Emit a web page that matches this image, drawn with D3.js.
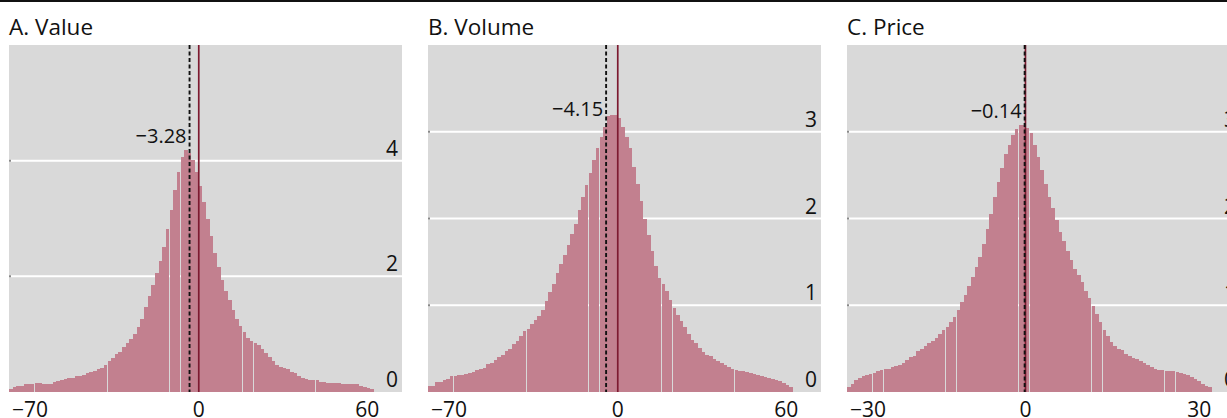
<!DOCTYPE html>
<html>
<head>
<meta charset="utf-8">
<script src="https://cdn.jsdelivr.net/npm/d3@7"></script>
<style>
  body { margin: 0; background: #fff; }
  svg { display: block; font-family: "Open Sans", "Noto Sans", sans-serif; }
</style>
</head>
<body>
<div id="chart"></div>
<script>
// panel set-up
const panelTitles = ["A. Value", "B. Volume", "C. Price"];
const medians = [-3.28, -4.15, -0.14];
const binStart = [-67.6, -67.6, -30.8];
const binWidth = [1.3, 1.3, 0.63];
const xDomains = [[-67.6, 72.4], [-67.6, 72.4], [-30.8, 37.03]];
const yDomains = [[0, 6], [0, 4], [0, 4]];
const yTicks = [[0, 2, 4], [0, 1, 2, 3], [0, 1, 2, 3]];
const xTicks = [[-70, 0, 60], [-70, 0, 60], [-30, 0, 30]];

// histogram heights, one value per bin
const valueBins = [
  0.06, 0.08, 0.10, 0.11, 0.13, 0.14, 0.14, 0.16, 0.16, 0.14,
  0.14, 0.14, 0.17, 0.19, 0.20, 0.22, 0.24, 0.25, 0.27, 0.28,
  0.30, 0.32, 0.34, 0.36, 0.39, 0.42, 0.47, 0.53, 0.58, 0.65,
  0.70, 0.77, 0.84, 0.91, 1.00, 1.12, 1.27, 1.47, 1.66, 1.85,
  2.06, 2.27, 2.51, 2.81, 3.14, 3.50, 3.81, 4.06, 4.18, 4.14,
  4.02, 3.81, 3.57, 3.29, 3.00, 2.70, 2.41, 2.16, 1.94, 1.74,
  1.59, 1.41, 1.27, 1.14, 1.03, 0.94, 0.89, 0.84, 0.81, 0.74,
  0.68, 0.60, 0.53, 0.47, 0.44, 0.41, 0.39, 0.35, 0.32, 0.28,
  0.25, 0.23, 0.21, 0.21, 0.20, 0.18, 0.18, 0.16, 0.16, 0.16,
  0.16, 0.14, 0.14, 0.14, 0.13, 0.13, 0.11, 0.09, 0.07, 0.06
];
const volumeBins = [
  0.07, 0.07, 0.11, 0.12, 0.14, 0.15, 0.18, 0.19, 0.20, 0.20,
  0.21, 0.22, 0.23, 0.25, 0.26, 0.28, 0.32, 0.34, 0.37, 0.40,
  0.43, 0.47, 0.50, 0.55, 0.59, 0.65, 0.70, 0.73, 0.78, 0.83,
  0.88, 0.95, 1.05, 1.15, 1.25, 1.37, 1.47, 1.58, 1.69, 1.82,
  1.94, 2.10, 2.25, 2.39, 2.52, 2.67, 2.81, 2.94, 3.06, 3.18,
  3.19, 3.19, 3.16, 3.06, 2.94, 2.81, 2.59, 2.40, 2.20, 2.00,
  1.81, 1.62, 1.45, 1.31, 1.25, 1.16, 1.06, 0.97, 0.89, 0.82,
  0.75, 0.67, 0.60, 0.56, 0.51, 0.46, 0.43, 0.41, 0.38, 0.36,
  0.34, 0.31, 0.29, 0.27, 0.25, 0.24, 0.24, 0.23, 0.22, 0.21,
  0.20, 0.19, 0.17, 0.16, 0.15, 0.14, 0.13, 0.10, 0.08, 0.06
];
const priceBins = [
  0.06, 0.09, 0.14, 0.16, 0.19, 0.20, 0.21, 0.22, 0.24, 0.25,
  0.26, 0.27, 0.29, 0.30, 0.31, 0.34, 0.37, 0.40, 0.42, 0.47,
  0.50, 0.53, 0.56, 0.59, 0.62, 0.67, 0.71, 0.75, 0.81, 0.87,
  0.95, 1.04, 1.12, 1.22, 1.32, 1.44, 1.56, 1.71, 1.88, 2.05,
  2.25, 2.42, 2.58, 2.74, 2.85, 2.96, 3.03, 3.08, 3.08, 3.04,
  2.98, 2.85, 2.71, 2.56, 2.40, 2.25, 2.12, 1.98, 1.85, 1.74,
  1.62, 1.52, 1.42, 1.35, 1.27, 1.17, 1.08, 0.99, 0.90, 0.81,
  0.71, 0.64, 0.58, 0.53, 0.50, 0.48, 0.44, 0.42, 0.39, 0.38,
  0.36, 0.34, 0.31, 0.29, 0.27, 0.25, 0.25, 0.24, 0.24, 0.24,
  0.23, 0.22, 0.21, 0.20, 0.17, 0.15, 0.13, 0.09, 0.07, 0.06
];
const allBins = [valueBins, volumeBins, priceBins];

const config = {
  width: 1227,
  height: 418,
  panelLeft: 9,
  panelStep: 419,
  panelWidth: 393,
  panelTop: 45,
  panelBottom: 392,
  bg: "#d9d9d9",
  barColor: "#c2808f",
  zeroColor: "#7d1a30",
  fontSize: 20,
  titleSize: 22.5
};

const svg = d3.select("#chart").append("svg")
  .attr("width", config.width)
  .attr("height", config.height);

// rule along the top
svg.append("line")
  .attr("x1", 0).attr("x2", config.width)
  .attr("y1", 1).attr("y2", 1)
  .attr("stroke", "#111").attr("stroke-width", 2);

panelTitles.forEach((title, p) => drawPanel(p));

function drawPanel(p) {
  const left = config.panelLeft + p * config.panelStep;
  const g = svg.append("g").attr("transform", "translate(" + left + ",0)");

  const x = d3.scaleLinear().domain(xDomains[p]).range([0, config.panelWidth]);
  const y = d3.scaleLinear().domain(yDomains[p]).range([config.panelBottom, config.panelTop]);

  g.append("text")
    .attr("x", 0).attr("y", 35)
    .attr("font-size", config.titleSize)
    .attr("fill", "#111")
    .text(panelTitles[p]);

  g.append("rect")
    .attr("x", 0).attr("y", config.panelTop)
    .attr("width", config.panelWidth)
    .attr("height", config.panelBottom - config.panelTop)
    .attr("fill", config.bg);

  // horizontal grid
  g.selectAll("line.grid")
    .data(yTicks[p].filter(d => d > 0))
    .enter().append("line")
    .attr("class", "grid")
    .attr("x1", 0).attr("x2", config.panelWidth)
    .attr("y1", d => y(d)).attr("y2", d => y(d))
    .attr("stroke", "#fff").attr("stroke-width", 2);

  g.selectAll("line.ytick")
    .data(yTicks[p].filter(d => d > 0))
    .enter().append("line")
    .attr("class", "ytick")
    .attr("x1", 0).attr("x2", 2)
    .attr("y1", d => y(d)).attr("y2", d => y(d))
    .attr("stroke", "#888").attr("stroke-width", 2);

  // bins
  const bins = allBins[p].map((v, i) => ({
    x0: binStart[p] + i * binWidth[p],
    x1: binStart[p] + (i + 1) * binWidth[p],
    v: v
  }));
  g.selectAll("rect.bar")
    .data(bins)
    .enter().append("rect")
    .attr("class", "bar")
    .attr("x", d => x(d.x0))
    .attr("width", d => x(d.x1) - x(d.x0) - 0.08)
    .attr("y", d => y(d.v))
    .attr("height", d => y(0) - y(d.v))
    .attr("fill", config.barColor)
    .attr("shape-rendering", "crispEdges");

  // zero line and median
  g.append("line")
    .attr("x1", x(0)).attr("x2", x(0))
    .attr("y1", config.panelTop).attr("y2", config.panelBottom)
    .attr("stroke", config.zeroColor).attr("stroke-width", 1.7);

  const xm = x(medians[p]);
  g.append("line")
    .attr("x1", xm).attr("x2", xm)
    .attr("y1", config.panelTop).attr("y2", config.panelBottom)
    .attr("stroke", "#111").attr("stroke-width", 1.9)
    .attr("stroke-dasharray", "4,2.5");

  const peak = d3.max(allBins[p]);
  g.append("text")
    .attr("x", xm - 3)
    .attr("y", Math.max(y(peak) - 7, 116))
    .attr("text-anchor", "end")
    .attr("font-size", config.fontSize)
    .attr("fill", "#111")
    .text(d3.format(".2f")(medians[p]).replace("-", "\u2212"));

  // y labels sit inside the panel, right-aligned
  g.selectAll("text.ylab")
    .data(yTicks[p])
    .enter().append("text")
    .attr("class", "ylab")
    .attr("x", config.panelWidth - 4)
    .attr("y", d => y(d) - 5)
    .attr("text-anchor", "end")
    .attr("font-size", config.fontSize + 1)
    .attr("fill", "#111")
    .text(d => d);

  // x labels, kept inside the panel
  g.selectAll("text.xlab")
    .data(xTicks[p])
    .enter().append("text")
    .attr("class", "xlab")
    .attr("y", config.panelBottom + 25)
    .attr("font-size", config.fontSize + 1)
    .attr("fill", "#111")
    .text(d => String(d).replace("-", "\u2212"))
    .attr("x", function (d) {
      const w = this.getComputedTextLength();
      let cx = x(d) - w / 2;
      cx = Math.max(3, Math.min(cx, config.panelWidth - w));
      return cx;
    });
}
</script>
</body>
</html>
